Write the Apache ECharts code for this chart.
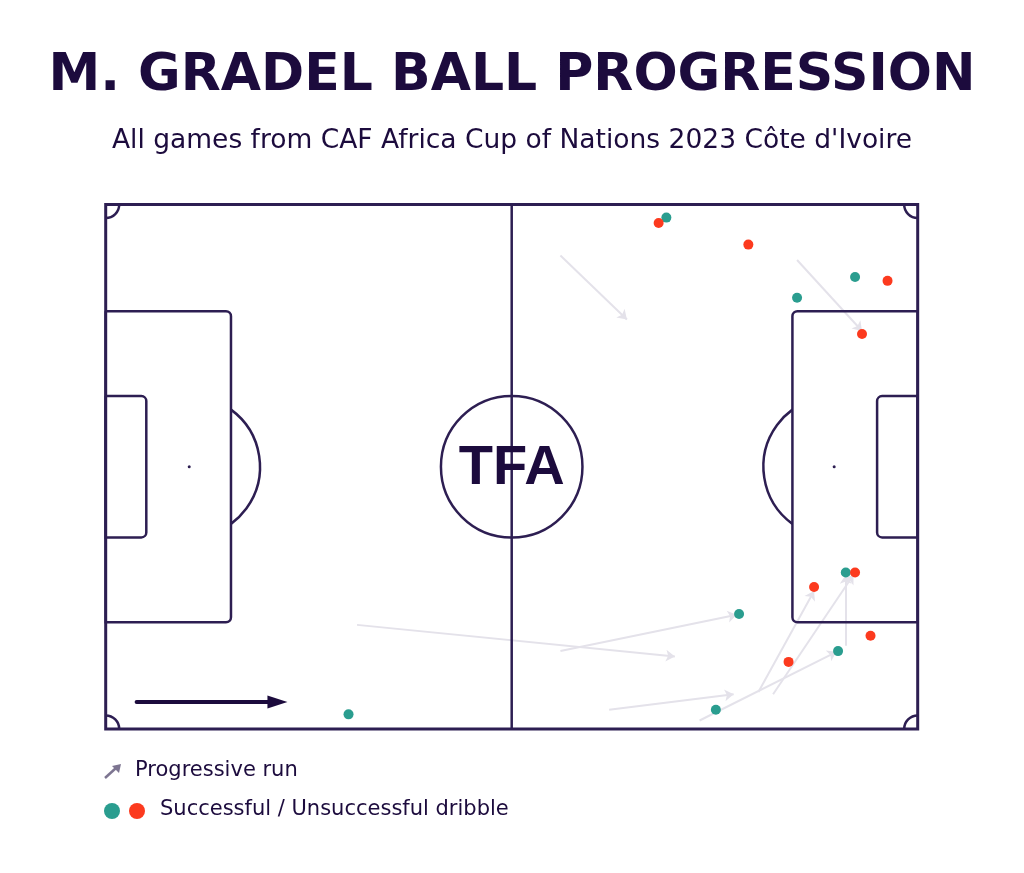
<!DOCTYPE html>
<html>
<head>
<meta charset="utf-8">
<script src="https://cdn.jsdelivr.net/npm/echarts@6/dist/echarts.min.js"></script>
<style>html,body{margin:0;padding:0;background:#fff}#c{width:1024px;height:873px}</style>
</head>
<body>
<div id="c"></div>
<script>
// ---- data (pitch metres, x: 0-105 attacking right, y: 0-68 from top) ----
const PITCH_LENGTH = 105;
const PITCH_WIDTH = 68;

const successX = [72.5, 96.9, 89.4, 95.7, 81.9, 94.7, 78.9, 31.4];
const successY = [1.7, 9.4, 12.1, 47.7, 53.1, 57.9, 65.5, 66.1];

const failX = [71.5, 83.1, 101.1, 97.8, 96.9, 91.6, 98.9, 88.3];
const failY = [2.4, 5.2, 9.9, 16.8, 47.7, 49.6, 55.9, 59.3];

const runStartX = [58.8, 89.4, 32.5, 58.8, 65.1, 76.8, 84.4, 86.3, 95.7];
const runStartY = [6.6, 7.2, 54.5, 57.9, 65.5, 66.9, 63.2, 63.5, 57.2];
const runEndX   = [67.4, 97.8, 73.6, 81.6, 81.2, 94.5, 91.6, 96.7, 95.7];
const runEndY   = [14.9, 16.4, 58.6, 53.2, 63.5, 58.0, 50.1, 48.0, 48.0];

// attacking direction marker
const directionX = [4.0, 23.5];
const directionY = [64.5, 64.5];

const titleText = 'M. GRADEL BALL PROGRESSION';
const subtitleText = "All games from CAF Africa Cup of Nations 2023 Côte d'Ivoire";
const legendRun = 'Progressive run';
const legendDribble = 'Successful / Unsuccessful dribble';

const LINE = '#2d1e52';
const INK = '#1c0b3d';
const TEAL = '#2a9d8f';
const RED = '#fc3a1e';
const RUN = '#e4e2ea';

function renderPitch(params, api) {
  const c = (x, y) => api.coord([x, y]);
  const L = PITCH_LENGTH, W = PITCH_WIDTH;
  const st = (lw) => ({ stroke: LINE, fill: null, lineWidth: lw || 2.5 });
  const ch = [];
  const tl = c(0, 0), br = c(L, W);
  ch.push({ type: 'rect', shape: { x: tl[0], y: tl[1], width: br[0] - tl[0], height: br[1] - tl[1] }, style: st(3) });
  const h1 = c(L / 2, 0), h2 = c(L / 2, W);
  ch.push({ type: 'line', shape: { x1: h1[0], y1: h1[1], x2: h2[0], y2: h2[1] }, style: st(2.5) });
  const ctr = c(L / 2, W / 2);
  const rC = api.size([9.15, 9.15])[0];
  ch.push({ type: 'circle', shape: { cx: ctr[0], cy: ctr[1], r: rC }, style: st(2.5) });
  // penalty areas & six-yard boxes
  const PEN_D = 16.2, SPOT = 10.8;
  const boxes = [[PEN_D, 40.32], [5.25, 18.32]];
  boxes.forEach(([d, w]) => {
    const a = c(0, W / 2 - w / 2), b = c(d, W / 2 + w / 2);
    ch.push({ type: 'rect', shape: { x: a[0], y: a[1], width: b[0] - a[0], height: b[1] - a[1], r: [0, 5, 5, 0] }, style: st(2.5) });
    const a2 = c(L - d, W / 2 - w / 2), b2 = c(L, W / 2 + w / 2);
    ch.push({ type: 'rect', shape: { x: a2[0], y: a2[1], width: b2[0] - a2[0], height: b2[1] - a2[1], r: [5, 0, 0, 5] }, style: st(2.5) });
  });
  // penalty spots
  [SPOT, L - SPOT].forEach(x => {
    const p = c(x, W / 2);
    ch.push({ type: 'circle', shape: { cx: p[0], cy: p[1], r: 1.5 }, style: { fill: LINE } });
  });
  // penalty arcs
  const ang = Math.acos((PEN_D - SPOT) / 9.15);
  const pl = c(SPOT, W / 2), pr = c(L - SPOT, W / 2);
  ch.push({ type: 'arc', shape: { cx: pl[0], cy: pl[1], r: rC, startAngle: -ang, endAngle: ang, clockwise: true }, style: st(2.5) });
  ch.push({ type: 'arc', shape: { cx: pr[0], cy: pr[1], r: rC, startAngle: Math.PI - ang, endAngle: Math.PI + ang, clockwise: true }, style: st(2.5) });
  // corner arcs
  const rk = api.size([1.75, 1.75])[0];
  const corners = [[0, 0, 0, Math.PI / 2], [L, 0, Math.PI / 2, Math.PI], [L, W, Math.PI, 1.5 * Math.PI], [0, W, 1.5 * Math.PI, 2 * Math.PI]];
  corners.forEach(([x, y, s, e]) => {
    const p = c(x, y);
    ch.push({ type: 'arc', shape: { cx: p[0], cy: p[1], r: rk, startAngle: s, endAngle: e, clockwise: true }, style: st(2.5) });
  });
  // attacking direction arrow
  const d1 = c(directionX[0], directionY[0]), d2 = c(directionX[1], directionY[1]);
  ch.push({ type: 'line', shape: { x1: d1[0], y1: d1[1], x2: d2[0] - 18, y2: d2[1] }, style: { stroke: INK, lineWidth: 4, lineCap: 'round' } });
  ch.push({ type: 'polygon', shape: { points: [[d2[0], d2[1]], [d2[0] - 20, d2[1] - 6.5], [d2[0] - 20, d2[1] + 6.5]] }, style: { fill: INK } });
  // logo
  ch.push({ type: 'text', x: ctr[0], y: ctr[1] + 2, style: { text: 'TFA', fill: INK, font: 'bold 56px "Liberation Sans"', align: 'center', verticalAlign: 'middle' } });
  return { type: 'group', children: ch };
}

const runs = runStartX.map((x, i) => ({ coords: [[x, runStartY[i]], [runEndX[i], runEndY[i]]] }));

const chart = echarts.init(document.getElementById('c'), null, { renderer: 'canvas' });
chart.setOption({
  backgroundColor: '#ffffff',
  animation: false,
  grid: { left: 105.7, right: 106.3, top: 204.5, bottom: 144, containLabel: false },
  xAxis: { type: 'value', min: 0, max: PITCH_LENGTH, show: false },
  yAxis: { type: 'value', min: 0, max: PITCH_WIDTH, inverse: true, show: false },
  graphic: [
    { type: 'text', left: 'center', top: 50, style: { text: titleText, fill: INK, font: 'bold 52px "DejaVu Sans"' } },
    { type: 'text', left: 'center', top: 128, style: { text: subtitleText, fill: INK, font: '26.5px "DejaVu Sans"' } },
    { type: 'line', shape: { x1: 105, y1: 778, x2: 116, y2: 768 }, style: { stroke: '#7d7591', lineWidth: 2.5 } },
    { type: 'polygon', shape: { points: [[121, 764], [112, 766], [119, 773]] }, style: { fill: '#7d7591' } },
    { type: 'text', x: 135, y: 771, style: { text: legendRun, fill: INK, font: '21px "DejaVu Sans"', verticalAlign: 'middle' } },
    { type: 'circle', shape: { cx: 112, cy: 811, r: 8 }, style: { fill: TEAL } },
    { type: 'circle', shape: { cx: 137, cy: 811, r: 8 }, style: { fill: RED } },
    { type: 'text', x: 160, y: 810, style: { text: legendDribble, fill: INK, font: '21px "DejaVu Sans"', verticalAlign: 'middle' } }
  ],
  series: [
    {
      type: 'lines', coordinateSystem: 'cartesian2d', z: 1, silent: true,
      data: runs,
      lineStyle: { color: RUN, width: 2, opacity: 1 },
      symbol: ['none', 'arrow'], symbolSize: 9
    },
    {
      type: 'custom', coordinateSystem: 'cartesian2d', z: 2, silent: true, clip: false,
      data: [[0, 0]], renderItem: renderPitch
    },
    {
      type: 'scatter', z: 4, symbolSize: 10,
      data: successX.map((x, i) => [x, successY[i]]),
      itemStyle: { color: TEAL, opacity: 1 }
    },
    {
      type: 'scatter', z: 4, symbolSize: 10,
      data: failX.map((x, i) => [x, failY[i]]),
      itemStyle: { color: RED, opacity: 1 }
    }
  ]
});
</script>
</body>
</html>
